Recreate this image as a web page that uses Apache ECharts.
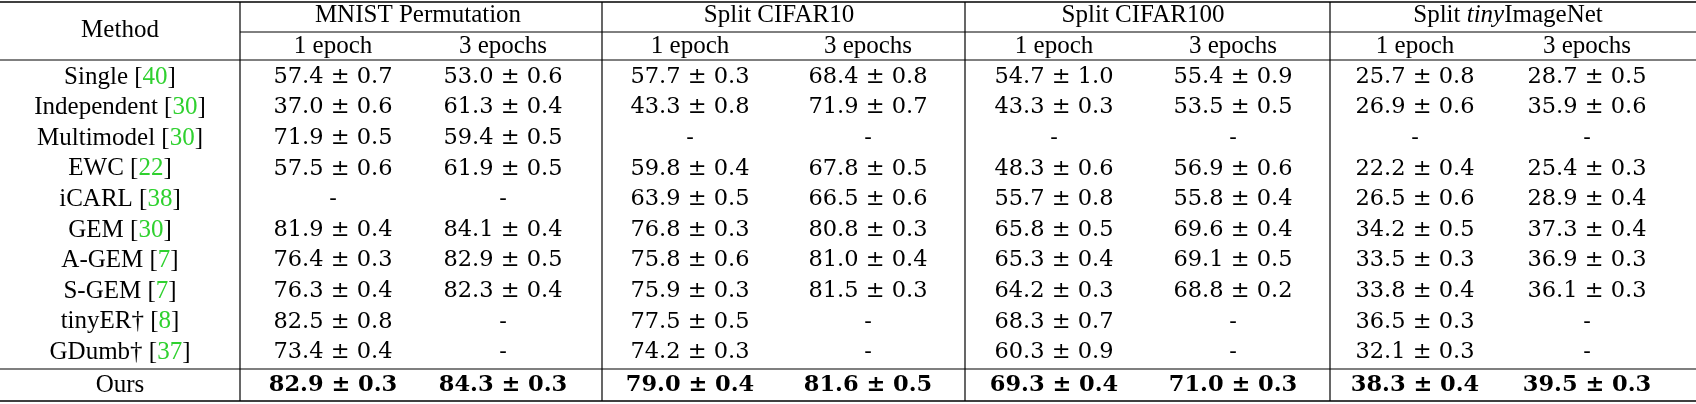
<!DOCTYPE html>
<html><head><meta charset="utf-8">
<script src="https://cdn.jsdelivr.net/npm/echarts@6/dist/echarts.min.js"></script>
<style>html,body{margin:0;padding:0;background:#fff}#c{width:1696px;height:404px}</style>
</head><body><div id="c"></div>
<script>
const groups = ["MNIST Permutation", "Split CIFAR10", "Split CIFAR100", "Split {it|tiny}ImageNet"];
const subHeaders = ["1 epoch", "3 epochs"];
const methods = ["Single", "Independent", "Multimodel", "EWC", "iCARL", "GEM", "A-GEM", "S-GEM", "tinyER†", "GDumb†", "Ours"];
const refs = ["40", "30", "30", "22", "38", "30", "7", "7", "8", "37", ""];
const values = [
  ["57.4 ± 0.7","53.0 ± 0.6","57.7 ± 0.3","68.4 ± 0.8","54.7 ± 1.0","55.4 ± 0.9","25.7 ± 0.8","28.7 ± 0.5"],
  ["37.0 ± 0.6","61.3 ± 0.4","43.3 ± 0.8","71.9 ± 0.7","43.3 ± 0.3","53.5 ± 0.5","26.9 ± 0.6","35.9 ± 0.6"],
  ["71.9 ± 0.5","59.4 ± 0.5","-","-","-","-","-","-"],
  ["57.5 ± 0.6","61.9 ± 0.5","59.8 ± 0.4","67.8 ± 0.5","48.3 ± 0.6","56.9 ± 0.6","22.2 ± 0.4","25.4 ± 0.3"],
  ["-","-","63.9 ± 0.5","66.5 ± 0.6","55.7 ± 0.8","55.8 ± 0.4","26.5 ± 0.6","28.9 ± 0.4"],
  ["81.9 ± 0.4","84.1 ± 0.4","76.8 ± 0.3","80.8 ± 0.3","65.8 ± 0.5","69.6 ± 0.4","34.2 ± 0.5","37.3 ± 0.4"],
  ["76.4 ± 0.3","82.9 ± 0.5","75.8 ± 0.6","81.0 ± 0.4","65.3 ± 0.4","69.1 ± 0.5","33.5 ± 0.3","36.9 ± 0.3"],
  ["76.3 ± 0.4","82.3 ± 0.4","75.9 ± 0.3","81.5 ± 0.3","64.2 ± 0.3","68.8 ± 0.2","33.8 ± 0.4","36.1 ± 0.3"],
  ["82.5 ± 0.8","-","77.5 ± 0.5","-","68.3 ± 0.7","-","36.5 ± 0.3","-"],
  ["73.4 ± 0.4","-","74.2 ± 0.3","-","60.3 ± 0.9","-","32.1 ± 0.3","-"],
  ["82.9 ± 0.3","84.3 ± 0.3","79.0 ± 0.4","81.6 ± 0.5","69.3 ± 0.4","71.0 ± 0.3","38.3 ± 0.4","39.5 ± 0.3"]
];

// layout (pixel space of the axes)
const colX = [120, 333, 503, 690, 868, 1054, 1233, 1415, 1587];
const groupX = [418, 779, 1143, 1508];
const rowY0 = 77, rowStep = 30.6, oursY = 385;
const vLines = [240, 602, 965, 1330];
const serif = "Liberation Serif";
const numFont = "DejaVu Serif";

const cells = [];
methods.forEach((m, r) => {
  const y = r === methods.length - 1 ? oursY : rowY0 + r * rowStep;
  const label = refs[r] ? `${m} [{g|${refs[r]}}]` : m;
  cells.push({value: [colX[0], y], text: label, kind: "method"});
  values[r].forEach((v, c) => {
    cells.push({value: [colX[c + 1], y], text: v, kind: r === methods.length - 1 ? "bold" : "num"});
  });
});
cells.push({value: [colX[0], 30], text: "Method", kind: "method"});
groups.forEach((g, i) => cells.push({value: [groupX[i], 15], text: g, kind: "method"}));
for (let c = 1; c < colX.length; c++) cells.push({value: [colX[c], 46], text: subHeaders[(c - 1) % 2], kind: "method"});

const lines = [];
lines.push({value: [0, 2, 1696, 2], w: 1.6});
lines.push({value: [vLines[0], 32, 1696, 32], w: 1});
lines.push({value: [0, 60, 1696, 60], w: 1});
lines.push({value: [0, 369, 1696, 369], w: 1.2});
lines.push({value: [0, 401, 1696, 401], w: 1.6});
vLines.forEach(x => lines.push({value: [x, 2, x, 401], w: 1.2}));

const chart = echarts.init(document.getElementById('c'));
chart.setOption({
  animation: false,
  grid: {left: 0, right: 0, top: 0, bottom: 0},
  xAxis: {type: 'value', min: 0, max: 1696, show: false},
  yAxis: {type: 'value', min: 0, max: 404, inverse: true, show: false},
  series: [
    {
      type: 'custom', data: lines,
      renderItem: (p, api) => {
        const a = api.coord([api.value(0), api.value(1)]);
        const b = api.coord([api.value(2), api.value(3)]);
        return {type: 'line', shape: {x1: a[0], y1: a[1], x2: b[0], y2: b[1]},
          style: {stroke: '#000', lineWidth: lines[p.dataIndex].w}};
      }
    },
    {
      type: 'custom', data: cells,
      renderItem: (p, api) => {
        const d = cells[p.dataIndex];
        const pt = api.coord([api.value(0), api.value(1)]);
        const isNum = d.kind !== "method";
        return {type: 'text', x: pt[0], y: pt[1], style: {
          text: d.text, align: 'center', verticalAlign: 'middle', fill: '#000',
          fontFamily: isNum ? numFont : serif,
          fontSize: isNum ? 22.5 : 25,
          fontWeight: d.kind === "bold" ? 'bold' : 'normal',
          rich: {
            g: {fill: '#2fd12f', fontFamily: serif, fontSize: 25},
            it: {fontStyle: 'italic', fontFamily: serif, fontSize: 25}
          }
        }};
      }
    }
  ]
});
</script></body></html>
